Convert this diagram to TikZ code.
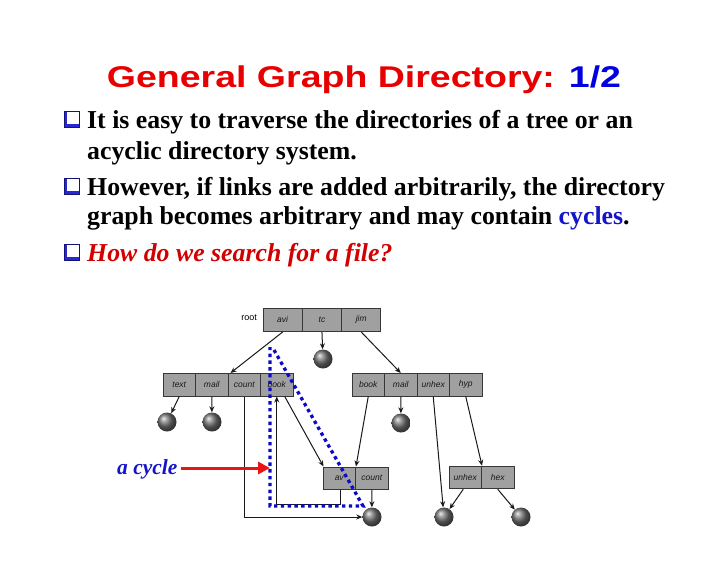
\documentclass[tikz,border=0pt]{standalone}
\usepackage{fontspec}
\setmainfont{Liberation Serif}
\newfontfamily\arialf{Liberation Sans}
\usetikzlibrary{arrows.meta,shadings}
\definecolor{tred}{RGB}{232,0,0}
\definecolor{tblue}{RGB}{0,0,225}
\definecolor{cblue}{RGB}{20,20,200}
\definecolor{qred}{RGB}{210,0,0}
\definecolor{boxgray}{RGB}{160,160,160}
\definecolor{boxline}{RGB}{55,55,55}
\definecolor{dotblue}{RGB}{10,10,200}
\definecolor{arrred}{RGB}{235,20,20}
\definecolor{qnavy}{RGB}{20,20,120}
\definecolor{qblue}{RGB}{40,40,210}
\begin{document}
\begin{tikzpicture}[x=1pt,y=-1pt,
  cell/.style={draw=boxline, line width=1pt, fill=boxgray, minimum width=32.5pt, minimum height=22.5pt, inner sep=0pt, font=\arialf\itshape\fontsize{8.5}{8.5}\selectfont, text=black!90},
  rcell/.style={cell, minimum width=39.3pt, minimum height=23.5pt},
  ball/.style={circle, minimum size=19pt, inner sep=0pt, shading=ball, ball color=black!55},
  conn/.style={draw=black!90, line width=1pt, -{Stealth[length=6pt,width=5pt]}},
  txtline/.style={anchor=base west, inner sep=0pt, font=\fontsize{25.8}{25.8}\selectfont\bfseries},
  cyc/.style={draw=dotblue, line width=3.3pt, dash pattern=on 3.4pt off 3.4pt},
  redarrow/.style={draw=arrred, line width=3pt, -{Triangle[length=12pt,width=12pt]}},
  qbox/.pic={
    \fill[qblue] (0,-17) rectangle (15,-1);
    \fill[white] (2.8,-17) rectangle (15,-3.8);
    \draw[qnavy, line width=0.6pt] (0,-17) rectangle (15,-1);
  }]
\path[use as bounding box] (0,0) rectangle (728,563);

% title
\node[anchor=base, inner sep=0pt] (title) at (364,87) {\scalebox{1.25}[1]{\arialf\bfseries\fontsize{30}{30}\selectfont\color{tred}General Graph Directory: \color{tblue}1/2}};

% bullets
\pic at (64,128) {qbox};
\pic at (64,195) {qbox};
\pic at (64,261) {qbox};
\node[txtline] (l1) at (87,128) {It is easy to traverse the directories of a tree or an};
\node[txtline] (l2) at (87,159) {acyclic directory system.};
\node[txtline] (l3) at (87,195) {However, if links are added arbitrarily, the directory};
\node[txtline] (l4) at (87,224) {graph becomes arbitrary and may contain \textcolor{cblue}{cycles}.};
\node[txtline, text=qred] (l5) at (87,261) {\itshape How do we search for a file?};

% root directory
\node[rcell] (avi) at (282.65,319.75) {avi};
\node[rcell] (tc) at (321.95,319.75) {tc};
\node[rcell] (jim) at (361.25,319.75) {jim};
\node[anchor=east, inner sep=0pt, font=\arialf\fontsize{9}{9}\selectfont] (root) at (257,318) {root};

% left directory
\node[cell] (text) at (179.25,384.75) {text};
\node[cell] (mail) at (211.75,384.75) {mail};
\node[cell] (count) at (244.25,384.75) {count};
\node[cell] (book) at (276.75,384.75) {book};

% right directory
\node[cell] (rbook) at (368.25,384.75) {book};
\node[cell] (rmail) at (400.75,384.75) {mail};
\node[cell] (runhex) at (433.25,384.75) {unhex};
\node[cell] (hyp) at (465.75,384.75) {hyp};

% av/count
\node[cell] (av) at (339.25,478.25) {av};
\node[cell] (bcount) at (371.75,478.25) {count};

% unhex/hex
\node[cell] (unhex) at (465.25,477.5) {unhex};
\node[cell] (hex) at (497.75,477.5) {hex};

% files
\node[ball] (btc) at (323,359) {};
\node[ball] (btext) at (167,422) {};
\node[ball] (bmail) at (212,422) {};
\node[ball] (brmail) at (401,423) {};
\node[ball] (bcnt) at (372,517) {};
\node[ball] (bunhex) at (444,517) {};
\node[ball] (bhex) at (521,517) {};

% connectors
\draw[conn] (avi.south) -- ([xshift=3pt]count.north west);
\draw[conn] (tc.south) -- (btc);
\draw[conn] (jim.south) -- (rmail.north);
\draw[conn] (text.south) -- (btext);
\draw[conn] (mail.south) -- (bmail);
\draw[conn] (rmail.south) -- (brmail);
\draw[conn] (count.south) |- (bcnt);
\draw[conn] ([xshift=8pt]book.south) -- ([xshift=1pt]av.north west);
\draw[conn] ([xshift=1.5pt]av.south) -- ++(0,14) -| (book.south);
\draw[conn] (rbook.south) -- (av.north east);
\draw[conn] (bcount.south) -- (bcnt);
\draw[conn] (runhex.south) -- (bunhex);
\draw[conn] (hyp.south) -- (unhex.north east);
\draw[conn] ([xshift=-2pt]unhex.south) -- (bunhex);
\draw[conn] (hex.south) -- (bhex);

% cycle
\coordinate (c1) at (274,350);
\coordinate (c2) at (363,506);
\coordinate (c3) at (270,506);
\coordinate (c4) at (270,347);
\draw[cyc] (c1) -- (c2) -- (c3) -- (c4);

% a cycle label
\node[anchor=base west, inner sep=0pt, text=cblue, font=\fontsize{21.5}{21.5}\selectfont\bfseries\itshape] (acyc) at (117,474) {a cycle};
\coordinate (cyctip) at (270,468);
\draw[redarrow] ([xshift=3pt]acyc.east |- cyctip) -- (cyctip);
\end{tikzpicture}
\end{document}
